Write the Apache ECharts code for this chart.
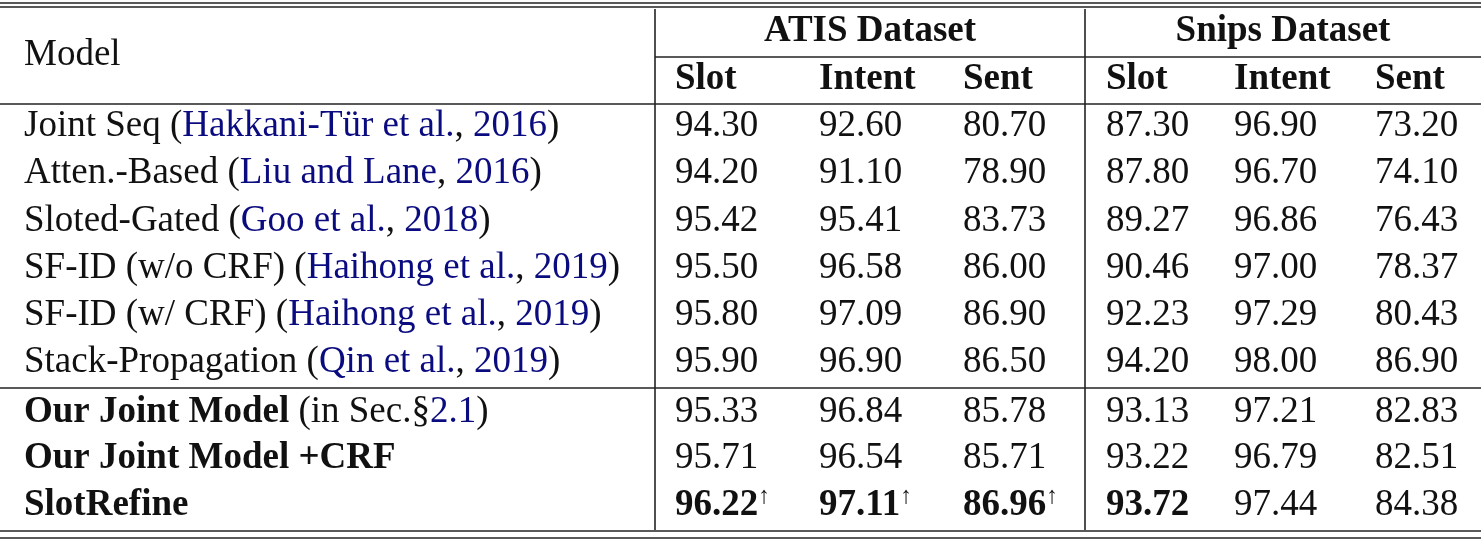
<!DOCTYPE html>
<html><head><meta charset="utf-8">
<script src="https://cdn.jsdelivr.net/npm/echarts@6/dist/echarts.min.js"></script>
<style>html,body{margin:0;padding:0;background:#fff}#c{width:1481px;height:541px}</style>
</head><body><div id="c"></div>
<script>
const datasets = ['ATIS Dataset', 'Snips Dataset'];
const metrics = ['Slot', 'Intent', 'Sent', 'Slot', 'Intent', 'Sent'];
const modelNames = ['Joint Seq', 'Atten.-Based', 'Sloted-Gated', 'SF-ID (w/o CRF)', 'SF-ID (w/ CRF)', 'Stack-Propagation', 'Our Joint Model', 'Our Joint Model +CRF', 'SlotRefine'];
const citeAuthors = ['Hakkani-Tür et al.', 'Liu and Lane', 'Goo et al.', 'Haihong et al.', 'Haihong et al.', 'Qin et al.', '', '', ''];
const citeYears = ['2016', '2016', '2018', '2019', '2019', '2019', '', '', ''];
const atisSlot   = ['94.30','94.20','95.42','95.50','95.80','95.90','95.33','95.71','96.22'];
const atisIntent = ['92.60','91.10','95.41','96.58','97.09','96.90','96.84','96.54','97.11'];
const atisSent   = ['80.70','78.90','83.73','86.00','86.90','86.50','85.78','85.71','86.96'];
const snipsSlot   = ['87.30','87.80','89.27','90.46','92.23','94.20','93.13','93.22','93.72'];
const snipsIntent = ['96.90','96.70','96.86','97.00','97.29','98.00','97.21','96.79','97.44'];
const snipsSent   = ['73.20','74.10','76.43','78.37','80.43','86.90','82.83','82.51','84.38'];
const boldCells = [[8,0],[8,1],[8,2],[8,3]]; // [row, col]
const arrowCells = [[8,0],[8,1],[8,2]];

// layout (pixels)
const colX = [675, 819, 963, 1106, 1234, 1375];
const rowY = [126, 173, 221, 268, 315, 362, 412, 458, 505];
const FS = 37, FONT = '"Liberation Serif","DejaVu Serif",serif', BLUE = '#0b0b80', INK = '#111';

const valueCols = [atisSlot, atisIntent, atisSent, snipsSlot, snipsIntent, snipsSent];
const isIn = (arr, r, c) => arr.some(a => a[0] === r && a[1] === c);

function modelRich(i) {
  if (i === 6) return '{b|' + modelNames[i] + '}{n| (in Sec.§}{c|2.1}{n|)}';
  if (!citeAuthors[i]) return '{b|' + modelNames[i] + '}';
  return '{n|' + modelNames[i] + ' (}{c|' + citeAuthors[i] + '}{n|, }{c|' + citeYears[i] + '}{n|)}';
}
const rich = {
  n: { fontSize: FS, fontFamily: FONT, fill: INK },
  b: { fontSize: FS, fontFamily: FONT, fontWeight: 'bold', fill: INK },
  c: { fontSize: FS, fontFamily: FONT, fill: BLUE },
  bv: { fontSize: FS, fontFamily: FONT, fontWeight: 'bold', fill: INK },
  up: { fontSize: 24, fontFamily: FONT, fill: INK, padding: [0, 0, 16, 0] }
};

const texts = [];
texts.push({ value: [24, 55], t: '{n|Model}', align: 'left' });
texts.push({ value: [870, 31], t: '{b|' + datasets[0] + '}', align: 'center' });
texts.push({ value: [1283, 31], t: '{b|' + datasets[1] + '}', align: 'center' });
metrics.forEach((m, c) => texts.push({ value: [colX[c], 79], t: '{b|' + m + '}', align: 'left' }));
modelNames.forEach((m, r) => texts.push({ value: [24, rowY[r]], t: modelRich(r), align: 'left' }));
valueCols.forEach((col, c) => col.forEach((v, r) => {
  let t = isIn(boldCells, r, c) ? '{bv|' + v + '}' : '{n|' + v + '}';
  if (isIn(arrowCells, r, c)) t += '{up|↑}';
  texts.push({ value: [colX[c], rowY[r]], t: t, align: 'left' });
}));

const rules = [
  [0, 3, 1481, 3], [0, 7, 1481, 7],
  [655, 57, 1481, 57],
  [0, 104, 1481, 104],
  [0, 388, 1481, 388],
  [0, 531, 1481, 531], [0, 538, 1481, 538],
  [655, 9, 655, 530], [1085, 9, 1085, 530]
];

const chart = echarts.init(document.getElementById('c'), null, { renderer: 'canvas' });
chart.setOption({
  animation: false,
  grid: { left: 0, right: 0, top: 0, bottom: 0 },
  xAxis: { type: 'value', min: 0, max: 1481, show: false },
  yAxis: { type: 'value', min: 0, max: 541, inverse: true, show: false },
  series: [
    {
      type: 'custom', data: rules.map(r => ({ value: r })),
      renderItem: (p, api) => {
        const a = api.coord([api.value(0), api.value(1)]);
        const b = api.coord([api.value(2), api.value(3)]);
        return { type: 'line', shape: { x1: a[0], y1: a[1], x2: b[0], y2: b[1] }, style: { stroke: '#222', lineWidth: 1.6 } };
      }
    },
    {
      type: 'custom', data: texts,
      renderItem: (p, api) => {
        const d = texts[p.dataIndex];
        const pt = api.coord(d.value);
        return { type: 'text', x: pt[0], y: pt[1], style: { text: d.t, rich: rich, align: d.align, verticalAlign: 'middle', fontFamily: FONT, fontSize: FS, fill: INK } };
      }
    }
  ]
});
</script></body></html>
